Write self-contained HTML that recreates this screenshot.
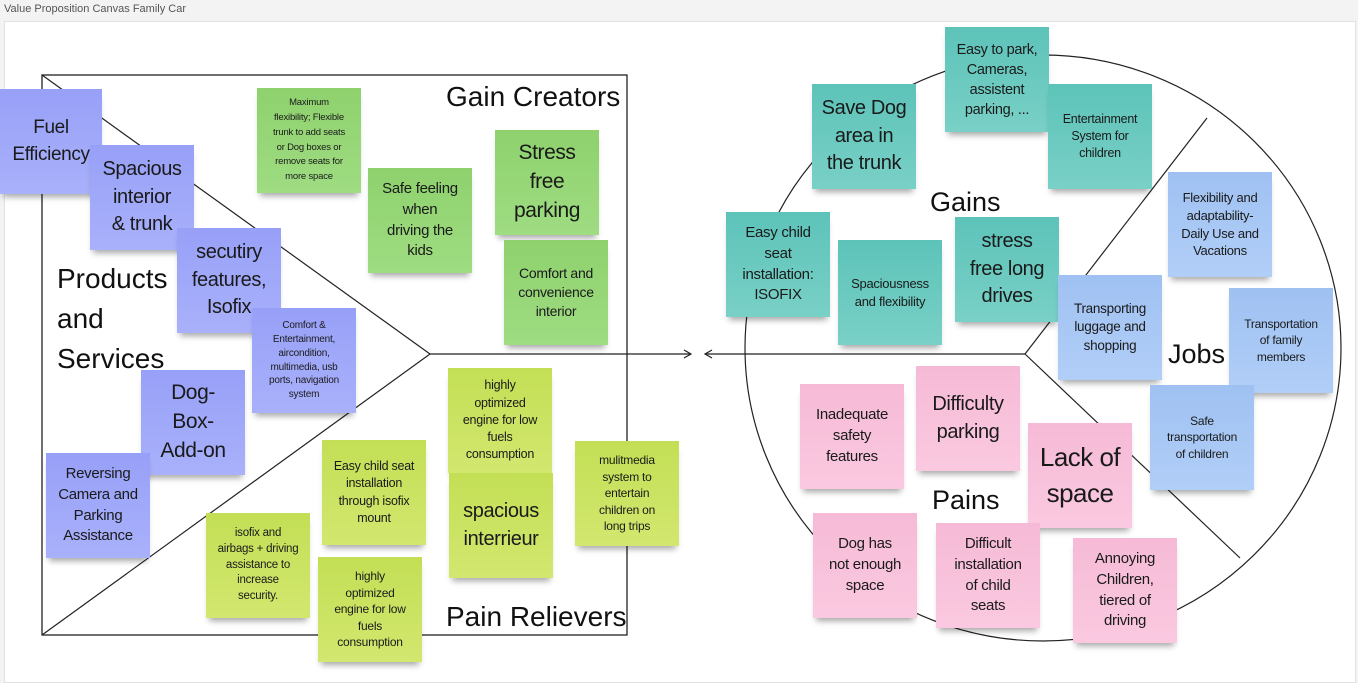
<!DOCTYPE html>
<html><head><meta charset="utf-8"><style>
body{margin:0;width:1358px;height:679px;overflow:hidden;background:#f3f3f3;font-family:"Liberation Sans",sans-serif;position:relative}
.top{position:absolute;left:4px;top:3px;font-size:11px;color:#555}
.canvas{position:absolute;left:4px;top:21px;width:1350px;height:660px;background:#fff;border:1px solid #e2e2e2}
svg{position:absolute;left:0;top:0}
.n{position:absolute;width:104px;height:105px;display:flex;align-items:center;justify-content:center;text-align:center;color:#1a1a1a;box-shadow:0 6px 6px -3px rgba(0,0,0,.35);line-height:1.38;box-sizing:border-box;padding:0;white-space:nowrap;letter-spacing:-0.02em}
.p{background:linear-gradient(#97a0f7,#a9b1fb)}
.g{background:linear-gradient(#8ed16d,#9fdc82)}
.y{background:linear-gradient(#c3df55,#d2e76f)}
.t{background:linear-gradient(#5dc3b9,#79d0c6)}
.b{background:linear-gradient(#9fc1f2,#b1cef7)}
.k{background:linear-gradient(#f6bad6,#fac9e0)}
.l{position:absolute;font-size:28px;color:#111;line-height:1.43}
</style></head><body>
<div class="top">Value Proposition Canvas Family Car</div>
<div class="canvas"></div>
<svg width="1358" height="679">
<rect x="42" y="75" width="585" height="560" fill="none" stroke="#222" stroke-width="1.3"/>
<polyline points="42,75 430,354 42,635" fill="none" stroke="#222" stroke-width="1.2"/>
<line x1="430" y1="354" x2="690" y2="354" stroke="#222" stroke-width="1.2"/>
<polyline points="684,350 691,354 684,358" fill="none" stroke="#222" stroke-width="1.2"/>
<line x1="706" y1="354" x2="1025" y2="354" stroke="#222" stroke-width="1.2"/>
<polyline points="712,350 705,354 712,358" fill="none" stroke="#222" stroke-width="1.2"/>
<ellipse cx="1043" cy="348" rx="298" ry="293" fill="none" stroke="#222" stroke-width="1.2"/>
<line x1="1025" y1="354" x2="1207" y2="118" stroke="#222" stroke-width="1.2"/>
<line x1="1025" y1="354" x2="1240" y2="558" stroke="#222" stroke-width="1.2"/>
</svg>
<div class="l" style="left:446px;top:77px">Gain Creators</div>
<div class="l" style="left:57px;top:259px">Products<br>and<br>Services</div>
<div class="l" style="left:446px;top:597px">Pain Relievers</div>
<div class="l" style="left:930px;top:183px;font-size:27px">Gains</div>
<div class="l" style="left:1168px;top:335px;font-size:27px">Jobs</div>
<div class="l" style="left:932px;top:481px;font-size:27px">Pains</div>

<div class="n p" style="left:0;top:89px;width:102px;font-size:19px">Fuel<br>Efficiency</div>
<div class="n p" style="left:90px;top:145px;font-size:20px">Spacious<br>interior<br>&amp; trunk</div>
<div class="n p" style="left:177px;top:228px;font-size:20px">secutiry<br>features,<br>Isofix</div>
<div class="n p" style="left:252px;top:308px;font-size:10px">Comfort &amp;<br>Entertainment,<br>aircondition,<br>multimedia, usb<br>ports, navigation<br>system</div>
<div class="n p" style="left:141px;top:370px;font-size:21px">Dog-<br>Box-<br>Add-on</div>
<div class="n p" style="left:46px;top:453px;font-size:15px">Reversing<br>Camera and<br>Parking<br>Assistance</div>

<div class="n g" style="left:257px;top:88px;font-size:9.5px;line-height:1.55">Maximum<br>flexibility; Flexible<br>trunk to add seats<br>or Dog boxes or<br>remove seats for<br>more space</div>
<div class="n g" style="left:368px;top:168px;font-size:15px">Safe feeling<br>when<br>driving the<br>kids</div>
<div class="n g" style="left:495px;top:130px;font-size:21px">Stress<br>free<br>parking</div>
<div class="n g" style="left:504px;top:240px;font-size:14px">Comfort and<br>convenience<br>interior</div>

<div class="n y" style="left:448px;top:368px;font-size:12.5px">highly<br>optimized<br>engine for low<br>fuels<br>consumption</div>
<div class="n y" style="left:322px;top:440px;font-size:12.5px">Easy child seat<br>installation<br>through isofix<br>mount</div>
<div class="n y" style="left:449px;top:473px;font-size:20px">spacious<br>interrieur</div>
<div class="n y" style="left:575px;top:441px;font-size:12px">mulitmedia<br>system to<br>entertain<br>children on<br>long trips</div>
<div class="n y" style="left:206px;top:513px;font-size:11.5px">isofix and<br>airbags + driving<br>assistance to<br>increase<br>security.</div>
<div class="n y" style="left:318px;top:557px;font-size:12px">highly<br>optimized<br>engine for low<br>fuels<br>consumption</div>

<div class="n t" style="left:945px;top:27px;font-size:14.5px">Easy to park,<br>Cameras,<br>assistent<br>parking, ...</div>
<div class="n t" style="left:812px;top:84px;font-size:20px">Save Dog<br>area in<br>the trunk</div>
<div class="n t" style="left:1048px;top:84px;font-size:12.5px">Entertainment<br>System for<br>children</div>
<div class="n t" style="left:726px;top:212px;font-size:15px">Easy child<br>seat<br>installation:<br>ISOFIX</div>
<div class="n t" style="left:838px;top:240px;font-size:13px">Spaciousness<br>and flexibility</div>
<div class="n t" style="left:955px;top:217px;font-size:20px">stress<br>free long<br>drives</div>

<div class="n b" style="left:1168px;top:172px;font-size:13px">Flexibility and<br>adaptability-<br>Daily Use and<br>Vacations</div>
<div class="n b" style="left:1058px;top:275px;font-size:13.5px">Transporting<br>luggage and<br>shopping</div>
<div class="n b" style="left:1229px;top:288px;font-size:12px">Transportation<br>of family<br>members</div>
<div class="n b" style="left:1150px;top:385px;font-size:12px">Safe<br>transportation<br>of children</div>

<div class="n k" style="left:800px;top:384px;font-size:15px">Inadequate<br>safety<br>features</div>
<div class="n k" style="left:916px;top:366px;font-size:20px">Difficulty<br>parking</div>
<div class="n k" style="left:1028px;top:423px;font-size:26px">Lack of<br>space</div>
<div class="n k" style="left:813px;top:513px;font-size:15px">Dog has<br>not enough<br>space</div>
<div class="n k" style="left:936px;top:523px;font-size:15px">Difficult<br>installation<br>of child<br>seats</div>
<div class="n k" style="left:1073px;top:538px;font-size:15px">Annoying<br>Children,<br>tiered of<br>driving</div>
</body></html>
